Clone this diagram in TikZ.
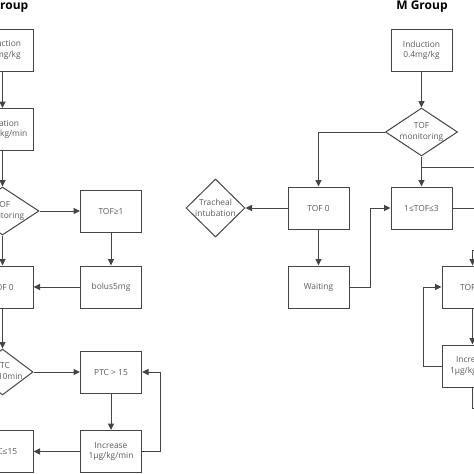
\documentclass[tikz,border=0pt]{standalone}
\usepackage{fontspec}
\setmainfont{Open Sans}
\usetikzlibrary{arrows.meta,shapes.geometric}
\definecolor{lncol}{HTML}{454545}
\definecolor{txcol}{HTML}{5A5A5A}
\begin{document}
\begin{tikzpicture}[x=1pt,y=-1pt,
  boxtxt/.style={text=txcol,font=\fontsize{8.4}{10.5}\selectfont,align=center},
  box/.style={boxtxt,draw=lncol,line width=1pt,minimum width=61pt,minimum height=42pt,inner sep=0pt},
  dia/.style={diamond,draw=lncol,line width=1pt,inner sep=0pt},
  conn/.style={draw=lncol,line width=1pt},
  arr/.style={conn,-{Triangle[length=6.5pt,width=6pt]}},
  title/.style={font=\bfseries\fontsize{12}{14}\selectfont,text=black,inner sep=0pt}]
\useasboundingbox (0,0) rectangle (474,474);

% titles
\node[title,anchor=base east] (ltitle) at (28.5,9.5) {R Group};
\node[title,anchor=base] (mtitle) at (422,9.5) {M Group};

% ---------- left group ----------
\node[box] (lind) at (2.5,50) {Induction\\0.6mg/kg};
\node[box] (ltit) at (2.5,129.5) {Titration\\10μg/kg/min};
\node[dia,minimum width=73pt,minimum height=48pt,label={[boxtxt]center:TOF\\monitoring}] (ldia) at (2.5,211) {};
\node[box] (ltof1) at (111,211) {TOF≥1};
\node[box] (lbolus) at (111,287) {bolus5mg};
\node[box] (ltof0) at (2.5,287) {TOF 0};
\node[dia,minimum width=61pt,minimum height=46pt,label={[boxtxt]center:PTC\\per 10min}] (lptc) at (2.5,372) {};
\node[box] (lptc15) at (111,372) {PTC > 15};
\node[box] (linc) at (111,451.5) {Increase\\1μg/kg/min};
\node[box] (lptcle) at (2.5,451.5) {PTC≤15};

\draw[arr] (lind) -- (ltit);
\draw[arr] (ltit) -- (ldia);
\draw[arr] (ldia.east) -- (ltof1.west);
\draw[arr] (ltof1) -- (lbolus);
\draw[arr] (lbolus) -- (ltof0);
\draw[arr] (ldia.south) -- (ltof0.north);
\draw[arr] (ltof0) -- (lptc.north);
\draw[arr] (lptc.east) -- (lptc15.west);
\draw[arr] (lptc15) -- (linc);
\draw[arr] (linc) -- (lptcle);
\draw[arr] (linc.east) -- ++(18,0) |- (lptc15.east);

% ---------- M group ----------
\node[box] (mind) at (421.5,50.5) {Induction\\0.4mg/kg};
\node[dia,minimum width=72pt,minimum height=48pt,label={[boxtxt]center:TOF\\monitoring}] (mdia) at (421.5,132) {};
\node[box] (mtof0) at (318.5,208) {TOF 0};
\node[dia,minimum width=59pt,minimum height=58pt,label={[boxtxt]center:Tracheal\\intubation}] (mtrach) at (215.5,208) {};
\node[box] (mwait) at (318.5,287) {Waiting};
\node[box] (m13) at (421.5,208) {1≤TOF≤3};
\node[box] (m4) at (472.5,287) {TOF≥4};
\node[box] (minc) at (472.5,366) {Increase\\1μg/kg/min};

\coordinate (mr1) at (490,167);
\coordinate (mr2) at (490,208);
\coordinate (mr3) at (490,250);
\coordinate (mr4) at (490,408);

\draw[arr] (mind) -- (mdia.north);
\draw[arr] (mdia.west) -| (mtof0.north);
\draw[arr] (mtof0.west) -- (mtrach.east);
\draw[arr] (mtof0) -- (mwait);
\draw[arr] (mwait.east) -- ++(20.5,0) |- (m13.west);
\draw[arr] (mdia.south) -- (m13.north);
\draw[conn] (mr1) -- (mr1 -| m13.north);
\draw[conn] (m13.east) -- (m13.east -| mr2);
\draw[arr] (mr3) -| (m4.north);
\draw[arr] (m4) -- (minc);
\draw[arr] (minc.west) -- ++(-18,0) |- (m4.west);
\draw[conn] (minc.south) |- (mr4);
\end{tikzpicture}
\end{document}
